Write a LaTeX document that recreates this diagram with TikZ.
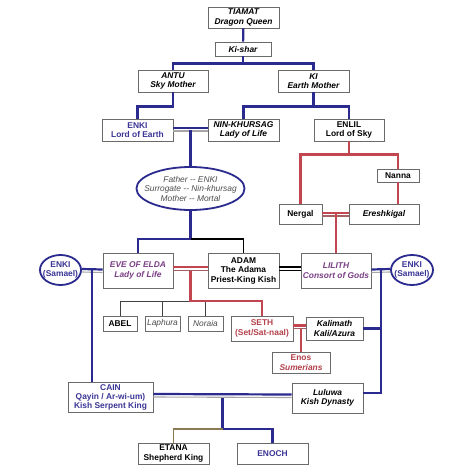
\documentclass[tikz,border=0pt]{standalone}
\usepackage{fontspec}
\setmainfont{Liberation Sans}
\usepackage{tikz}
\usetikzlibrary{shapes.geometric, calc}

\definecolor{linenavy}{HTML}{2B2A8E}
\definecolor{linered}{HTML}{C24650}
\definecolor{textnavy}{HTML}{3A3595}
\definecolor{textpurple}{HTML}{7B3F86}
\definecolor{textred}{HTML}{B3404A}
\definecolor{textgrey}{HTML}{4D4D4D}
\definecolor{boxgrey}{HTML}{6A6A6A}
\definecolor{lineolive}{HTML}{8C7A55}

\tikzset{
    box/.style={draw=boxgrey, line width=0.9pt, fill=white, inner sep=0pt, align=center,
        font=\bfseries\fontsize{8.4}{9.5}\selectfont},
    boxit/.style={box, font=\bfseries\itshape\fontsize{8.4}{9.5}\selectfont},
    boxthin/.style={box, text=textgrey, font=\itshape\fontsize{8.4}{9.5}\selectfont},
    wh/.style 2 args={minimum width=#1pt, minimum height=#2pt},
    oval/.style={ellipse, draw=linenavy, line width=1.8pt, fill=white, inner sep=-3pt, align=center},
    blueline/.style={draw=linenavy, line width=2.2pt},
    redline/.style={draw=linered, line width=2.2pt},
    blackline/.style={draw=black, line width=1.5pt},
    thinline/.style={draw=black!75, line width=0.9pt},
    oliveline/.style={draw=lineolive, line width=1.5pt},
    pairline/.style={draw=gray!70, line width=1.1pt},
    redpair/.style={draw=linered!55!gray, line width=1.1pt},
}

\begin{document}
\begin{tikzpicture}[x=1pt, y=-1pt]
    \useasboundingbox[fill=white] (0,0) rectangle (474,474);

    % Gods
    \node[boxit, wh={71}{21}] (tiamat) at (243.5,17.5) {TIAMAT\\Dragon Queen};
    \node[boxit, wh={56}{14}] (kishar) at (243,49) {Ki-shar};
    \node[boxit, wh={70}{22}] (antu) at (173,81) {ANTU\\Sky Mother};
    \node[boxit, wh={71}{22}] (ki) at (313.5,81) {KI\\Earth Mother};
    \node[box, wh={71}{22}, text=textnavy] (enki) at (137.5,130) {ENKI\\Lord of Earth};
    \node[boxit, wh={71}{22}] (ninkhursag) at (243.5,130) {NIN-KHURSAG\\Lady of Life};
    \node[box, wh={70}{22}] (enlil) at (349,130) {ENLIL\\Lord of Sky};
    \node[oval, inner sep=-8pt, wh={105}{43}, text=textgrey,
        font=\itshape\fontsize{8.4}{9.5}\selectfont] (father) at (190.5,188.5)
        {Father -{}- ENKI\\Surrogate -{}- Nin-khursag\\Mother -{}- Mortal};
    \node[box, wh={42}{13}] (nanna) at (398,175.5) {Nanna};
    \node[box, wh={43}{20}] (nergal) at (300.5,214) {Nergal};
    \node[boxit, wh={70}{20}] (ereshkigal) at (384,214) {Ereshkigal};

    % Adam generation
    \node[oval, wh={41}{30}, text=textnavy,
        font=\bfseries\fontsize{8.4}{9.5}\selectfont] (samaelL) at (60.5,270) {ENKI\\(Samael)};
    \node[boxit, wh={70}{35}, text=textpurple] (eve) at (138,270.5) {EVE OF ELDA\\Lady of Life};
    \node[box, wh={71}{35}] (adam) at (243.5,270.5) {ADAM\\The Adama\\Priest-King Kish};
    \node[boxit, wh={70}{35}, text=textpurple] (lilith) at (336,270.5) {LILITH\\Consort of Gods};
    \node[oval, wh={42}{30}, text=textnavy,
        font=\bfseries\fontsize{8.4}{9.5}\selectfont] (samaelR) at (412,270) {ENKI\\(Samael)};

    % Children
    \node[box, wh={34}{15}] (abel) at (120,323.5) {ABEL};
    \node[boxthin, wh={35}{15}] (laphura) at (162.5,323.5) {Laphura};
    \node[boxthin, wh={35}{15}] (noraia) at (205.5,323.5) {Noraia};
    \node[box, wh={62}{25}, text=textred] (seth) at (262,328.5) {SETH\\(Set/Sat-naal)};
    \node[boxit, wh={57}{23}] (kalimath) at (334.5,328.5) {Kalimath\\Kali/Azura};
    \node[box, wh={58}{21}, text=textred] (enos) at (301,362.5) {Enos\\\textit{Sumerians}};
    \node[box, wh={85}{30}, text=textnavy, font=\bfseries\fontsize{8.4}{8.9}\selectfont] (cain)
        at (110.5,397.5) {CAIN\\Qayin / Ar-wi-um)\\Kish Serpent King};
    \node[boxit, wh={71}{30}] (luluwa) at (327.5,398) {Luluwa\\Kish Dynasty};
    \node[box, wh={71}{21}] (etana) at (173.5,453.5) {ETANA\\Shepherd King};
    \node[box, wh={71}{21}, text=textnavy] (enoch) at (272.5,453.5) {ENOCH};

    % Top line
    \draw[blueline] (tiamat) -- (kishar);
    \draw[blueline] (kishar.south) -- ++(0,7) coordinate (j1);
    \draw[blueline] (antu.north) |- (j1) -| (ki.north);
    \draw[blueline] (antu.south) -- ++(0,14) -| (enki.north);
    \draw[blueline] (ki.south) -- ++(0,14) coordinate (j2);
    \draw[blueline] (ninkhursag.north) |- (j2) -| (enlil.north);

    % Enki + Nin-khursag
    \draw[blueline] ([yshift=2pt]enki.east) -- ([yshift=2pt]ninkhursag.west);
    \draw[pairline] ([yshift=-1pt]enki.east) -- ([yshift=-1pt]ninkhursag.west);
    \draw[blueline] (father.north) -- (father.north |- enki.east);
    \draw[blueline] (father.south) -- ++(0,28) coordinate (j3) -| (eve.north);
    \draw[blackline] (j3) -| (adam.north);

    % Enlil line
    \draw[redline] (enlil.south) -- ++(0,13) coordinate (j4);
    \draw[redline] (nergal.north) |- (j4) -| (nanna.north);
    \draw[redline] (nanna.south) -- (nanna.south |- ereshkigal.north);
    \draw[redline] ([yshift=1pt]nergal.east) -- ([yshift=1pt]ereshkigal.west);
    \draw[redpair] ([yshift=-2pt]nergal.east) -- ([yshift=-2pt]ereshkigal.west);
    \draw[redline] (lilith.north) -- (lilith.north |- nergal.east);

    % Marriages of Adam's generation
    \draw[blueline] ([yshift=1pt]samaelL.east) -- ([yshift=1pt]eve.west);
    \draw[pairline] ([yshift=-2pt]samaelL.east) -- ([yshift=-2pt]eve.west);
    \draw[redline] ([yshift=3.5pt]eve.east) -- ([yshift=3.5pt]adam.west);
    \draw[redpair] ([yshift=0pt]eve.east) -- ([yshift=0pt]adam.west);
    \draw[blackline] ([yshift=3.5pt]adam.east) -- ([yshift=3.5pt]lilith.west);
    \draw[blackline] ([yshift=0pt]adam.east) -- ([yshift=0pt]lilith.west);
    \draw[blueline] ([yshift=1pt]lilith.east) -- ([yshift=1pt]samaelR.west);
    \draw[pairline] ([yshift=-2pt]lilith.east) -- ([yshift=-2pt]samaelR.west);

    % Children of Eve
    \coordinate (j5) at ($(samaelL.east)!0.5!(eve.west)$);
    \draw[blueline] (j5) -- (j5 |- cain.north);
    \coordinate (j6) at ($(eve.east)!0.5!(adam.west)$);
    \coordinate (j7) at ($(j6)+(0,30.5)$);
    \draw[thinline] (abel.north) |- (j7);
    \draw[thinline] (laphura.north) -- (laphura.north |- j7);
    \draw[thinline] (noraia.north) -- (noraia.north |- j7);
    \draw[redline] (j6) -- (j7) -| (seth.north);

    % Seth + Kalimath
    \draw[redline] ([yshift=3pt]seth.east) -- ([yshift=3pt]kalimath.west);
    \draw[redpair] ([yshift=0pt]seth.east) -- ([yshift=0pt]kalimath.west);
    \draw[redline] (enos.north) -- (enos.north |- seth.east);

    % Lilith side
    \coordinate (j8) at ($(lilith.east)!0.5!(samaelR.west)$);
    \draw[blueline] (j8) |- ([yshift=5pt]luluwa.east);
    \draw[blueline] (kalimath.east) -- (kalimath.east -| j8);

    % Cain + Luluwa
    \draw[blueline] ([yshift=3.5pt]cain.east) -- ([yshift=3.5pt]luluwa.west);
    \draw[pairline] ([yshift=0.5pt]cain.east) -- ([yshift=0.5pt]luluwa.west);
    \coordinate (j9) at ($(cain.east)!0.5!(luluwa.west)$);
    \draw[blueline] (j9) -- ++(0,31) coordinate (j10) -| (enoch.north);
    \draw[oliveline] (j10) -| (etana.north);
\end{tikzpicture}
\end{document}
